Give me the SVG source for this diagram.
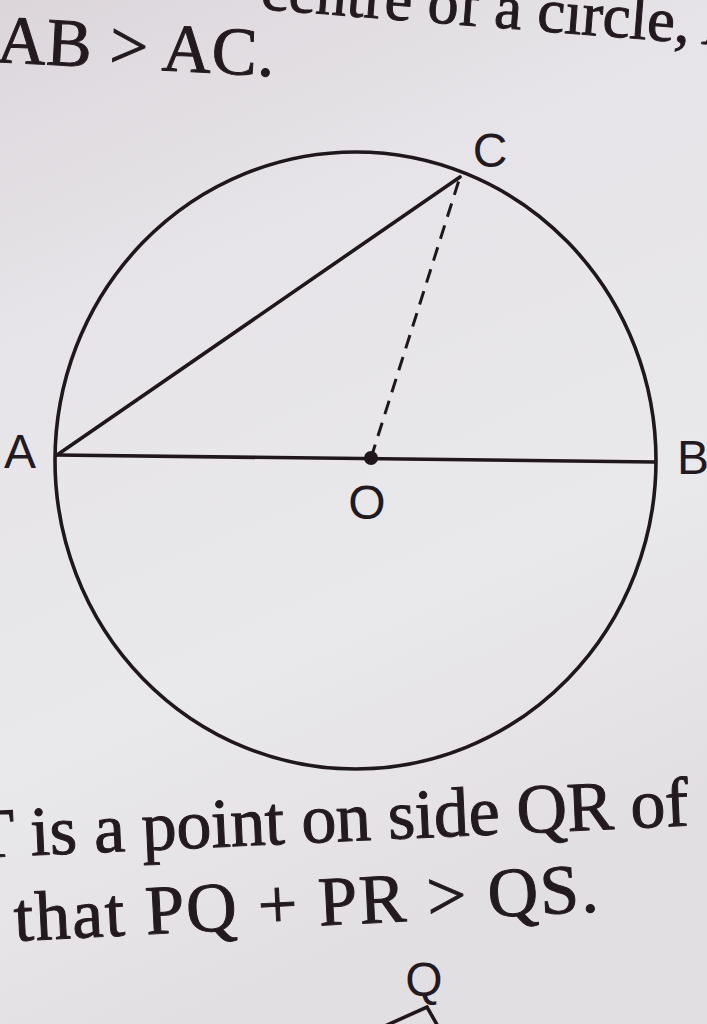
<svg xmlns="http://www.w3.org/2000/svg" width="707" height="1024" viewBox="0 0 707 1024">
  <defs>
    <linearGradient id="paper" x1="0" y1="0" x2="0.3" y2="1">
      <stop offset="0" stop-color="#dcd6db"/>
      <stop offset="0.3" stop-color="#e6e4e8"/>
      <stop offset="0.7" stop-color="#e9e8ea"/>
      <stop offset="1" stop-color="#e2dfe3"/>
    </linearGradient>
    <style>
      .body { font-family: "Liberation Serif", "Times New Roman", serif; fill: #231a1f; stroke: #231a1f; stroke-width: 1; }
      .lbl { font-family: "Liberation Sans", Arial, sans-serif; font-size: 48px; fill: #231a1f; text-anchor: middle; }
      .ink { stroke: #1f171b; stroke-width: 3.6; fill: none; stroke-linecap: round; }
      .dash { stroke: #1f171b; stroke-width: 3; fill: none; stroke-dasharray: 14 9; }
    </style>
  </defs>
  <rect x="0" y="0" width="707" height="1024" fill="url(#paper)"/>

  <!-- page text -->
  <g id="page-text">
    <text class="body" x="260" y="9" font-size="62" transform="rotate(4.5 260 9)">centre of a circle, A</text>
    <text class="body" x="-4" y="62" font-size="68" textLength="278" transform="rotate(2.9 -4 62)">AB &gt; AC.</text>
    <text class="body" x="-27" y="858" font-size="70" textLength="717" transform="rotate(-2.6 -27 858)">T is a point on side QR of</text>
    <text class="body" x="15" y="941" font-size="70" textLength="585" transform="rotate(-2.9 15 941)">that PQ + PR &gt; QS.</text>
  </g>

  <!-- circle -->
  <g id="circle">
    <ellipse class="ink" cx="355.5" cy="460.5" rx="300.5" ry="308.5"/>
  </g>

  <!-- connectors -->
  <g id="connectors">
    <line class="ink" x1="57" y1="455" x2="655" y2="462"/>
    <line class="ink" x1="57" y1="455" x2="460" y2="177"/>
    <line class="dash" x1="371" y1="458" x2="460" y2="177"/>
  </g>

  <!-- nodes -->
  <g id="node-A"><text class="lbl" x="20" y="468">A</text></g>
  <g id="node-B"><text class="lbl" x="693" y="474">B</text></g>
  <g id="node-C"><text class="lbl" x="490" y="167">C</text></g>
  <g id="node-O">
    <circle cx="371" cy="458" r="7" fill="#1f171b"/>
    <text class="lbl" x="367" y="519">O</text>
  </g>

  <!-- next figure (cut off) -->
  <g id="node-Q">
    <text class="lbl" x="424" y="996" font-size="44">Q</text>
    <polyline class="ink" stroke-width="3" points="385,1026 427,1007 440,1030"/>
  </g>
</svg>
